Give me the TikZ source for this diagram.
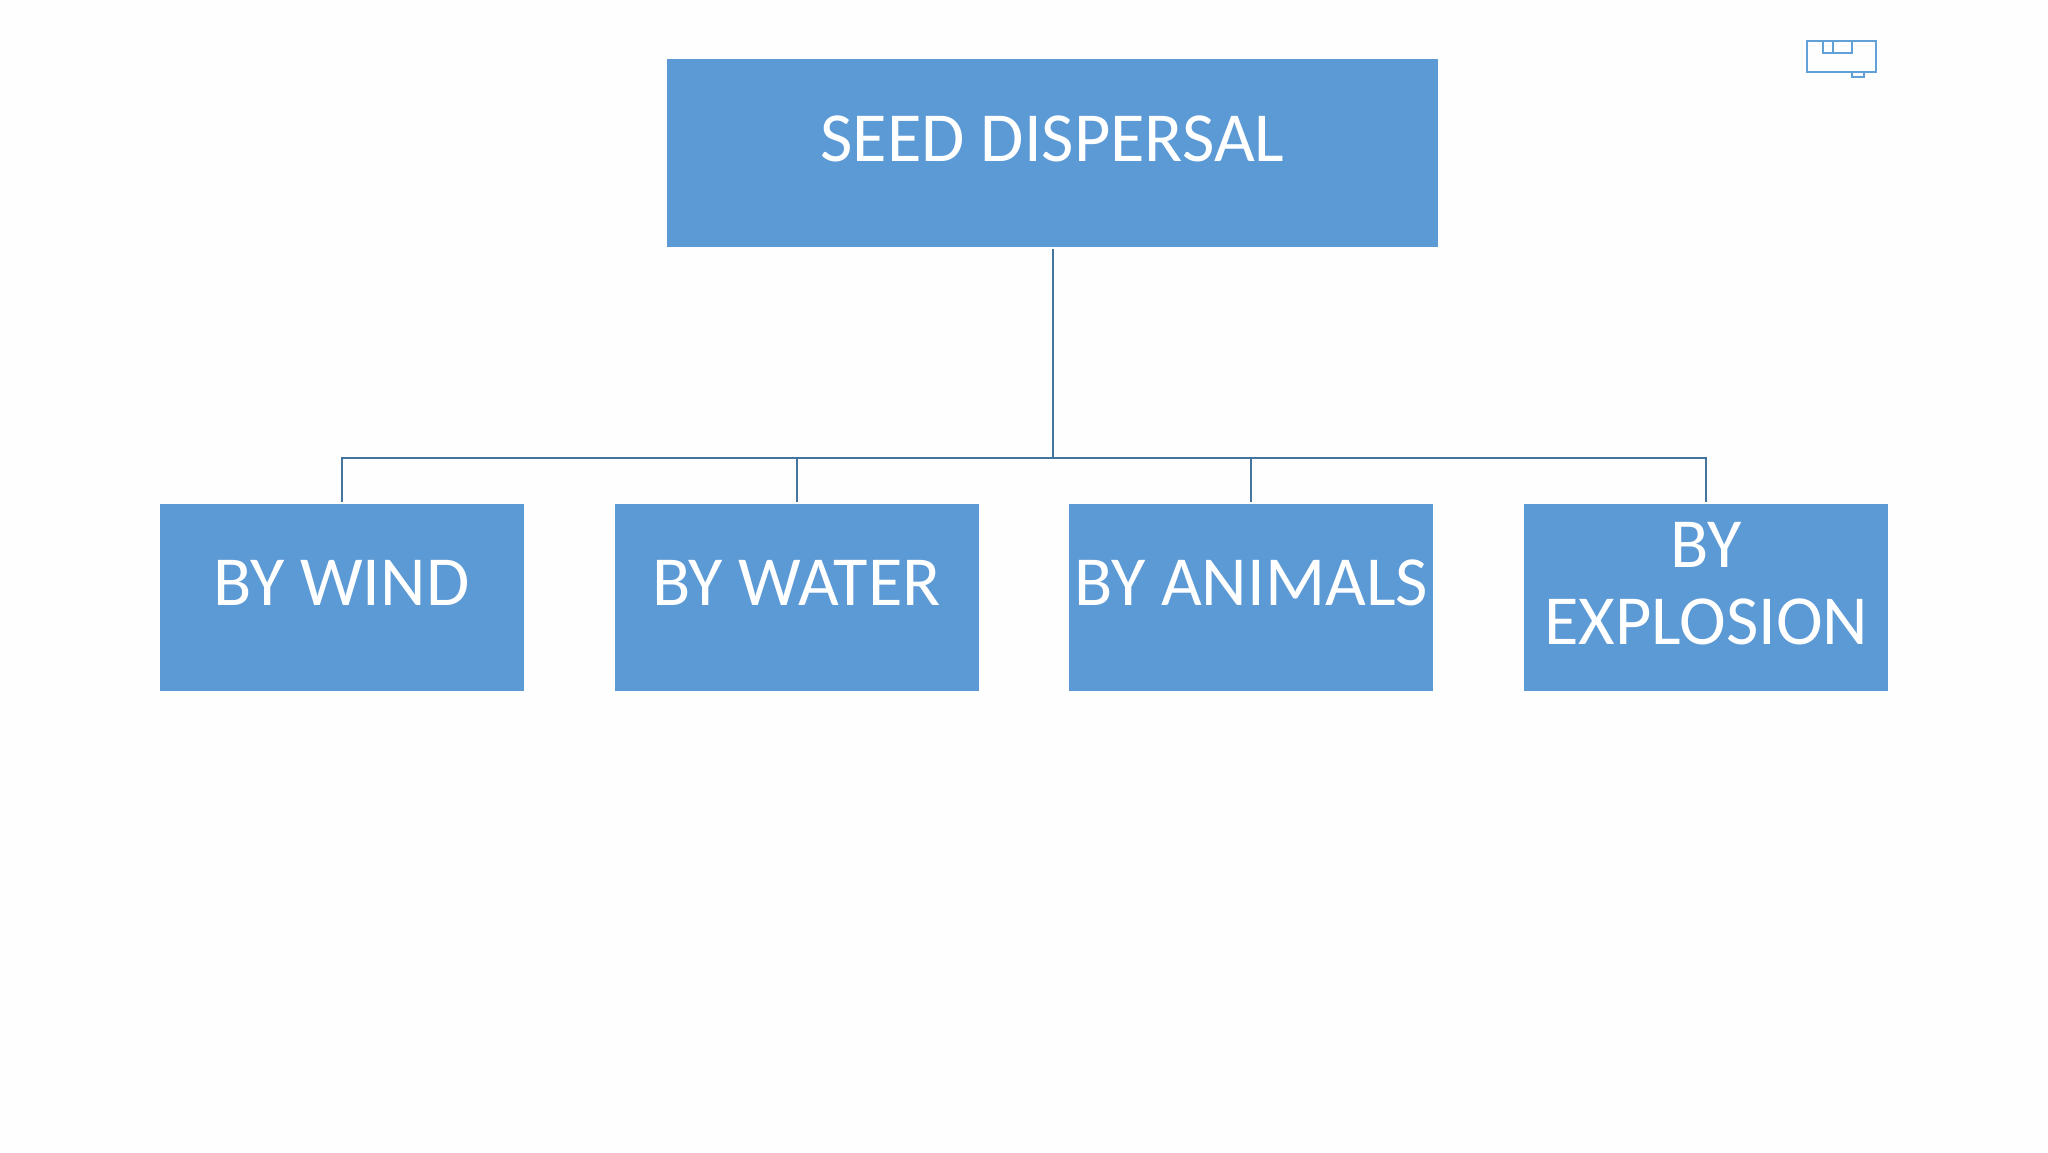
\documentclass[tikz,border=0pt]{standalone}
\usepackage{fontspec}
\setmainfont{Carlito}
\definecolor{boxblue}{HTML}{5C9AD6}
\definecolor{linkblue}{HTML}{44759F}
\definecolor{iconblue}{HTML}{62A0D8}
\definecolor{pagewhite}{HTML}{FEFEFE}
\newcommand{\droptext}[2]{\raisebox{-#1}[0pt][0pt]{#2}}
\tikzset{
  every node/.style={inner sep=0pt,outer sep=0pt},
  boxnode/.style={rectangle,fill=boxblue,text=white,font=\fontsize{35.2}{38.5}\selectfont},
  topbox/.style={boxnode,minimum width=385.5pt,minimum height=94pt},
  childbox/.style={boxnode,minimum width=182pt,minimum height=93.5pt},
  conn/.style={draw=linkblue,line width=1pt},
  iconline/.style={draw=iconblue,line width=1pt}
}
\begin{document}
\begin{tikzpicture}[x=0.5pt,y=-0.5pt]
\fill[pagewhite] (0,0) rectangle (2048,1152);
\useasboundingbox (0,0) rectangle (2048,1152);
\node[topbox] (top) at (1052.5,153) {\droptext{4.35pt}{SEED DISPERSAL}};
\node[childbox] (wind) at (341.5,597) {\droptext{4pt}{BY WIND}};
\node[childbox] (water) at (796.5,597) {\droptext{4pt}{BY WATER}};
\node[childbox] (animals) at (1251.3,597) {\droptext{4pt}{BY ANIMALS}};
\node[childbox] (explosion) at (1706.2,597) {\droptext{23.5pt}{\parbox[b]{182pt}{\centering BY\\EXPLOSION}}};
\coordinate (bus) at (1052.5,458);
\draw[conn,shorten <=1pt] (top.south) -- (bus);
\foreach \c in {wind,water,animals,explosion}{
  \draw[conn,shorten >=1pt] (bus) -| (\c.north);
}
% icon in the top right corner
\draw[iconline] (1807,40.7) rectangle (1876,72);
\draw[iconline] (1822.7,40.7) rectangle (1833,53);
\draw[iconline] (1833,40.7) rectangle (1852,53);
\draw[iconline] (1852,72) rectangle (1864,77);
\end{tikzpicture}
\end{document}
